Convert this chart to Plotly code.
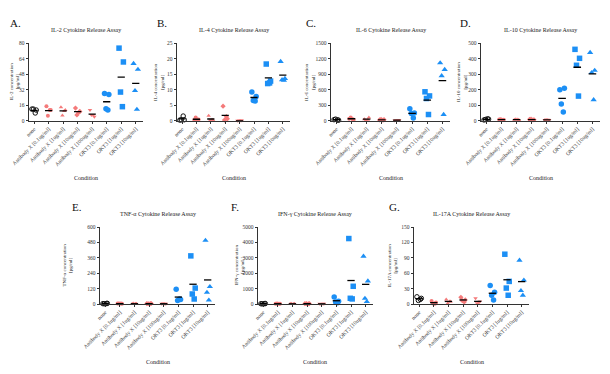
import plotly.graph_objects as go
import numpy as np

CATEGORIES = ["none", "Antibody X [0.1ug/ml]", "Antibody X [1ug/ml]", "Antibody X [10ug/ml]",
              "Antibody X [100ug/ml]", "OKT3 [0.1ug/ml]", "OKT3 [1ug/ml]", "OKT3 [10ug/ml]"]

IL2 = [[12, 11, 12, 8], [15, 11, 5, 11], [14, 11, 5.5, 10], [13, 9.6, 6, 8.6], [11, 4, 6, 6],
       [28, 27, 12.4, 11], [75, 60.7, 29.6, 14.5], [59, 53, 31, 11.7]]
IL4 = [[0.2, 0.3, 0.3, 1.5], [0.2, 0.4, 1.0, 0.3], [1.6, 0.2, 0.1, 0.3], [4.7, 0.6, 0.2, 1.3],
       [0.0, 0.05, 0.1, 0.05], [9.3, 7.8, 6.5, 6.4], [18.3, 12.8, 12.0, 12.2], [19.1, 13.6, 13.2, 13.0]]
IL6 = [[20, 10, 30, 15], [40, 20, 60, 30], [30, 60, 10, 20], [15, 20, 25, 10], [5, 10, 8, 12],
       [230, 150, 140, 50], [560, 480, 430, 120], [1120, 990, 870, 120]]
IL10 = [[5, 10, 8, 12], [8, 6, 10, 5], [6, 4, 9, 7], [8, 6, 10, 5], [5, 4, 7, 6],
        [200, 210, 108, 57], [461, 403, 358, 159], [440, 325, 310, 135]]
TNFA = [[3, 5, 2, 4], [3, 2, 4, 3], [2, 1, 3, 2], [3, 4, 2, 3], [2, 1, 3, 2],
        [115, 35, 28, 38], [375, 124, 78, 39], [495, 135, 90, 30]]
IFNG = [[20, 30, 10, 25], [20, 15, 30, 10], [10, 15, 20, 5], [20, 30, 25, 15], [10, 15, 5, 10],
        [460, 180, 130, 80], [4250, 1150, 370, 330], [3100, 1490, 360, 150]]
IL17A = [[14, 11, 7, 9], [6, 3, 1, 0.5], [9, 5, 1, 5], [13, 8, 6.5, 4], [11, 5, 1.5, 3],
         [36, 23, 17, 7.8], [97, 44, 31, 17], [85, 46.5, 26, 17]]

LETTERS = ["A.", "B.", "C.", "D.", "E.", "F.", "G."]
TITLES = ["IL-2 Cytokine Release Assay", "IL-4 Cytokine Release Assay", "IL-6 Cytokine Release Assay",
          "IL-10 Cytokine Release Assay", "TNF-α Cytokine Release Assay", "IFN-γ Cytokine Release Assay",
          "IL-17A Cytokine Release Assay"]
YTITLES = ["IL-2 concentration<br>[pg/ml]", "IL-4 concentration<br>[pg/ml]", "IL-6 concentration<br>[pg/ml]",
           "IL-10 concentration<br>[pg/ml]", "TNF-α concentration<br>[pg/ml]", "IFN-γ concentration<br>[pg/mL]",
           "IL-17A concentration<br>[pg/ml]"]
YMAX = [80, 25, 1500, 500, 600, 5000, 150]
YSTEP = [16, 5, 300, 100, 120, 1000, 30]
DATA = [IL2, IL4, IL6, IL10, TNFA, IFNG, IL17A]

# layout (pixel positions on the page; page body adds an 8px offset)
W, H = 610, 374
OFF = 8
PX_X = [(29, 143), (177, 290), (331, 450), (481, 600), (100, 215), (258, 373), (414, 529)]
PX_Y = [(43.3, 120.7)] * 4 + [(227, 304)] * 3
LETTER_POS = [(8, 22.5), (155, 22.5), (304, 22.5), (458, 22.5), (70, 207), (229, 207), (387, 207)]
YT_X = [14.5, 159, 310, 462, 67, 239, 392]

JITTER = [-0.15, 0.15, -0.05, 0.08]
SYMBOLS = ["circle-open", "circle", "triangle-up", "diamond", "triangle-down", "circle", "square", "triangle-up"]
BLACK, RED, BLUE = "#111111", "#f47a7a", "#1c8ff5"
COLORS = [BLACK] + [RED] * 4 + [BLUE] * 3
SIZES = [4.5, 4, 4, 4, 4, 5.5, 5.5, 5.5]

FONT = "Liberation Serif"


def fx(px):
    return (px - OFF) / W


def fy(py):
    return 1 - (py - OFF) / H


fig = go.Figure()
annotations = []
layout = {}

for p in range(7):
    ax = "" if p == 0 else str(p + 1)
    xref, yref = "x" + ax, "y" + ax
    for g, vals in enumerate(DATA[p]):
        xs = [g + JITTER[k] for k in range(len(vals))]
        fig.add_trace(go.Scatter(
            x=xs, y=vals, mode="markers", xaxis=xref, yaxis=yref, cliponaxis=False,
            marker=dict(symbol=SYMBOLS[g], color=COLORS[g], size=SIZES[g],
                        line=dict(color=COLORS[g], width=1 if g == 0 else 0)),
            showlegend=False, hoverinfo="skip"))
        m = float(np.mean(vals))
        fig.add_trace(go.Scatter(
            x=[g - 0.25, g + 0.25], y=[m, m], mode="lines", xaxis=xref, yaxis=yref, cliponaxis=False,
            line=dict(color="black", width=1.3), showlegend=False, hoverinfo="skip"))

    x0, x1 = PX_X[p]
    yt, yb = PX_Y[p]
    layout["xaxis" + ax] = dict(
        domain=[fx(x0), fx(x1)], anchor=yref, range=[-0.35, 7.5], showgrid=False, zeroline=False,
        automargin=False, showline=True, linecolor="#333", linewidth=1,
        tickmode="array", tickvals=list(range(8)), ticktext=CATEGORIES, tickangle=-45,
        ticks="outside", ticklen=2, tickcolor="#333", tickfont=dict(family=FONT, size=5.5, color="#333"))
    layout["yaxis" + ax] = dict(
        domain=[fy(yb), fy(yt)], anchor=xref, range=[0, YMAX[p]], showgrid=False, zeroline=False,
        automargin=False, showline=True, linecolor="#333", linewidth=1,
        tickmode="array", tickvals=list(range(0, YMAX[p] + 1, YSTEP[p])),
        ticks="outside", ticklen=2.5, tickcolor="#333", tickfont=dict(family=FONT, size=5.5, color="#333"))

    annotations.append(dict(text=TITLES[p], x=fx((x0 + x1) / 2), y=fy(yt - 13), xref="paper", yref="paper",
                            showarrow=False, xanchor="center", yanchor="middle",
                            font=dict(family=FONT, size=6, color="#222")))
    lx, ly = LETTER_POS[p]
    annotations.append(dict(text=LETTERS[p], x=fx(lx), y=fy(ly), xref="paper", yref="paper",
                            showarrow=False, xanchor="left", yanchor="middle",
                            font=dict(family=FONT, size=11, color="#111")))
    annotations.append(dict(text=YTITLES[p], x=fx(YT_X[p]), y=fy((yt + yb) / 2), xref="paper", yref="paper",
                            showarrow=False, xanchor="center", yanchor="middle", textangle=-90,
                            font=dict(family=FONT, size=5, color="#222")))
    annotations.append(dict(text="Condition", x=fx((x0 + x1) / 2), y=fy(yb + 57.5), xref="paper", yref="paper",
                            showarrow=False, xanchor="center", yanchor="middle",
                            font=dict(family=FONT, size=6, color="#222")))

fig.update_layout(width=W, height=H, margin=dict(l=0, r=0, t=0, b=0, autoexpand=False),
                  paper_bgcolor="white", plot_bgcolor="white", annotations=annotations, **layout)
fig.write_html("out.html")
